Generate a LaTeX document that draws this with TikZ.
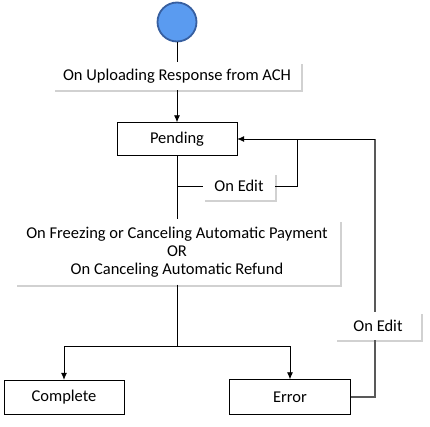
\documentclass[tikz,border=0pt]{standalone}
\usepackage{fontspec}
\setmainfont{Carlito}
\usetikzlibrary{arrows.meta,shadows}

\definecolor{azulinicio}{RGB}{90,155,240}
\definecolor{azulborde}{RGB}{55,95,160}

\tikzset{
    estado/.style={draw=black, fill=white, inner sep=0pt},
    etiqueta/.style={fill=white, inner sep=0pt, align=center,
        drop shadow={shadow xshift=2pt, shadow yshift=-2pt, opacity=0.18, fill=black}},
    linea/.style={black, line width=0.8pt},
    retorno/.style={black!65, line width=1.2pt},
}

\begin{document}
\begin{tikzpicture}[x=1pt, y=-1pt, >={Latex[length=7pt,width=6pt]},
        font=\fontsize{16.5}{18}\selectfont]
    \useasboundingbox (0,0) rectangle (430,426);

    % Inicio
    \node[circle, fill=azulinicio, draw=azulborde, line width=1.8pt, minimum size=39pt, inner sep=0pt] (inicio) at (177,22) {};

    % Estados
    \node[estado, minimum width=120pt, minimum height=33pt] (pendiente) at (177,139) {Pending};
    \node[estado, minimum width=120pt, minimum height=34pt] (completo) at (64,397) {Complete};
    \node[estado, minimum width=121pt, minimum height=35pt] (error) at (290,397) {Error};

    % Etiquetas
    \node[etiqueta, minimum width=248pt, minimum height=28pt] (subida) at (177,76) {On Uploading Response from ACH};
    \node[etiqueta, minimum width=72pt, minimum height=27pt] (edicion1) at (239,186) {On Edit};
    \node[etiqueta, minimum width=325pt, minimum height=65pt] (congelar) at (177,252)
        {On Freezing or Canceling Automatic Payment\\OR\\On Canceling Automatic Refund};
    \node[etiqueta, minimum width=86pt, minimum height=28pt] (edicion2) at (378,326) {On Edit};

    % Puntos de paso
    \coordinate (vuelta1) at (297,139);
    \coordinate (vuelta2) at (375,139);
    \coordinate (rama) at (177,346);

    % Conectores
    \draw[linea] (inicio) -- (subida);
    \draw[linea, ->] (subida) -- (pendiente);
    \draw[linea] (pendiente) -- (congelar);
    \draw[linea] (177,186) -- (edicion1.west);
    \draw[linea] (edicion1.east) -| (vuelta1);
    \draw[linea] (congelar) -- (rama);
    \draw[linea, ->] (rama) -| (completo);
    \draw[linea, ->] (rama) -| (error);

    % Retorno desde Error
    \draw[retorno] (error.east) -| (edicion2.south -| vuelta2);
    \draw[retorno] (edicion2.north -| vuelta2) -- (vuelta2);
    \draw[linea, ->] (vuelta2) -- (pendiente.east);
\end{tikzpicture}
\end{document}
